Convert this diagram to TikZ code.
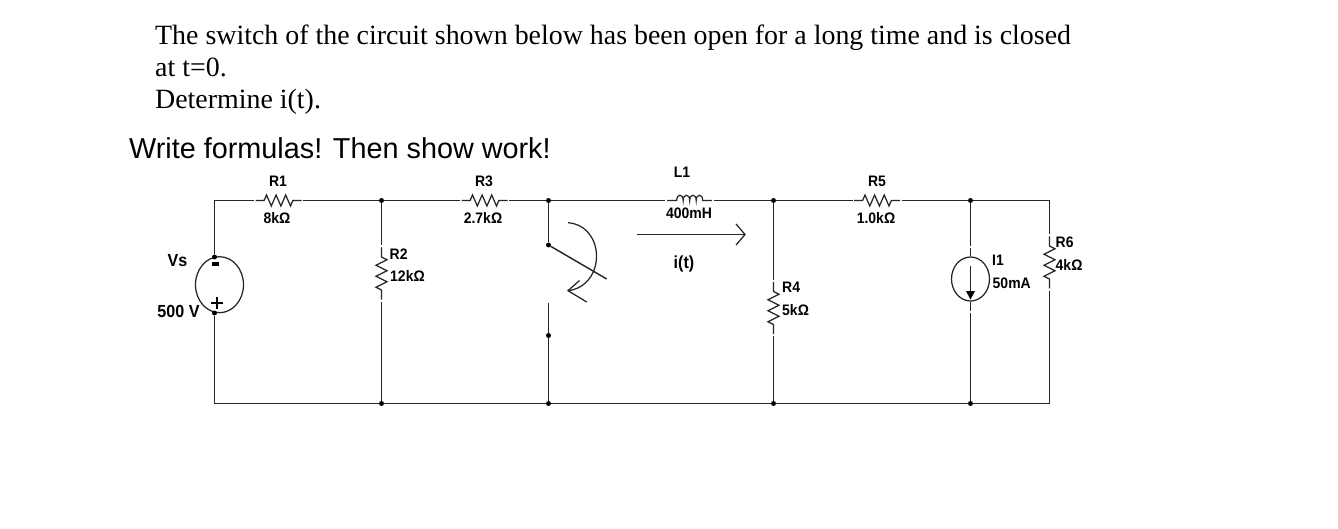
\documentclass[tikz,border=0pt]{standalone}
\usepackage{fontspec}
\setmainfont{Liberation Serif}
\newfontfamily\labelfont{Liberation Sans}
\newfontfamily\partfont[FakeStretch=0.92]{Liberation Sans}
\usetikzlibrary{shapes.geometric}
\tikzset{
  wire/.style={line width=1.45pt,draw=black!85},
  part/.style={line width=1.25pt,draw=black!85,line join=miter},
  dot/.style={circle,fill=black,inner sep=0pt,minimum size=5pt},
  para/.style={anchor=base west,inner sep=0pt,font=\fontsize{27.9}{34}\selectfont},
  head/.style={anchor=base west,inner sep=0pt,font=\labelfont\fontsize{28.8}{34}\selectfont},
  lab/.style={inner sep=0pt,font=\partfont\bfseries\fontsize{15.2}{16}\selectfont},
  labl/.style={lab,anchor=west},
  labbig/.style={inner sep=0pt,font=\partfont\bfseries\fontsize{17.5}{18}\selectfont},
}
% horizontal resistor: name, centre x, y
\newcommand{\hres}[3]{%
  \coordinate (#1in) at (#2-24.5,#3); \coordinate (#1out) at (#2+24.5,#3);
  \draw[part] (#2-23,#3) -- (#2-14.4,#3) -- ++(2.4,-5.5)
    -- ++(4.8,11) -- ++(4.8,-11) -- ++(4.8,11) -- ++(4.8,-11) -- ++(4.8,11)
    -- ++(2.4,-5.5) -- (#2+23,#3);}
% vertical resistor: name, x, centre y
\newcommand{\vres}[3]{%
  \coordinate (#1in) at (#2,#3-28); \coordinate (#1out) at (#2,#3+28);
  \draw[part] (#2,#3-26) -- (#2,#3-16.5) -- ++(5.5,2.75)
    -- ++(-11,5.5) -- ++(11,5.5) -- ++(-11,5.5) -- ++(11,5.5) -- ++(-11,5.5)
    -- ++(5.5,2.75) -- (#2,#3+26);}
\begin{document}
\begin{tikzpicture}[x=1pt,y=-1pt]
  \useasboundingbox (0,0) rectangle (1338,529);
  % text
  \node[para] (line1) at (155,45) {The switch of the circuit shown below has been open for a long time and is closed};
  \node[para] (line2) at (155,77) {at t=0.};
  \node[para] (line3) at (155,109) {Determine i(t).};
  \node[head] (title) at (129,158.5) {Write formulas! Then show work!};
  % junctions
  \coordinate (tl) at (214.5,200.5);
  \coordinate (tr) at (1049.5,200.5);
  \coordinate (bl) at (214.5,403.5);
  \coordinate (br) at (1049.5,403.5);
  \node[dot] (jt1) at (381.5,200.5) {};
  \node[dot] (jt2) at (548.5,200.5) {};
  \node[dot] (jt3) at (773.5,200.5) {};
  \node[dot] (jt4) at (970.5,200.5) {};
  \node[dot] (jb1) at (381.5,403.5) {};
  \node[dot] (jb2) at (548.5,403.5) {};
  \node[dot] (jb3) at (773.5,403.5) {};
  \node[dot] (jb4) at (970.5,403.5) {};
  % sources
  \node[ellipse,draw,part,minimum width=48pt,minimum height=56pt,inner sep=0pt] (Vs) at (219.5,284.7) {};
  \node[dot] (Vsn) at (214.5,257) {};
  \node[dot] (Vsp) at (214.5,313) {};
  \fill (212,262.5) rectangle (219,266.5);
  \draw[line width=2.1pt] (211,303) -- (223,303) (217,297) -- (217,309);
  \node[ellipse,draw,part,minimum width=38pt,minimum height=44pt,inner sep=0pt] (I1) at (970.5,279) {};
  \coordinate (I1in) at (970.5,246); \coordinate (I1out) at (970.5,313);
  \draw[part] (970.5,248) -- (I1.north) (I1.south) -- (970.5,311);
  \draw[part] (970.5,266) -- (970.5,292);
  \fill (966,291) -- (975,291) -- (970.5,299.5) -- cycle;
  % parts
  \hres{R1}{278.5}{200.5}
  \hres{R3}{484.5}{200.5}
  \hres{R5}{877}{200.5}
  \vres{R2}{381.5}{273.5}
  \vres{R4}{773.5}{308}
  \vres{R6}{1049.5}{262.5}
  \coordinate (L1in) at (665,200.5); \coordinate (L1out) at (714,200.5);
  \draw[part] (667,200.5) -- (676.7,200.5)
    \foreach \hump in {0,...,3} { .. controls (676.7+\hump*6.5,193.5) and (683.2+\hump*6.5,193.5) .. (683.2+\hump*6.5,200.5) }
    -- (712,200.5);
  % wires
  \draw[wire] (Vsn) -- (tl) -- (R1in);
  \draw[wire] (R1out) -- (jt1);
  \draw[wire] (jt1) -- (R3in);
  \draw[wire] (R3out) -- (jt2);
  \draw[wire] (jt2) -- (L1in);
  \draw[wire] (L1out) -- (jt3);
  \draw[wire] (jt3) -- (R5in);
  \draw[wire] (R5out) -- (jt4);
  \draw[wire] (jt4) -- (tr) -- (R6in);
  \draw[wire] (R6out) -- (br) -- (jb4);
  \draw[wire] (jb4) -- (jb3);
  \draw[wire] (jb3) -- (jb2);
  \draw[wire] (jb2) -- (jb1);
  \draw[wire] (jb1) -- (bl) -- (Vsp);
  \draw[wire] (jt1) -- (R2in);
  \draw[wire] (R2out) -- (jb1);
  \draw[wire] (jt3) -- (R4in);
  \draw[wire] (R4out) -- (jb3);
  \draw[wire] (jt4) -- (I1in);
  \draw[wire] (I1out) -- (jb4);
  % switch
  \node[dot] (swa) at (548.5,245) {};
  \node[dot] (swb) at (548.5,335.5) {};
  \coordinate (swtip) at (606.7,279);
  \coordinate (swlow) at (548.5,302.7);
  \draw[wire] (jt2) -- (swa);
  \draw[wire] (swa) -- (swtip);
  \draw[wire] (swlow) -- (swb);
  \draw[wire] (swb) -- (jb2);
  \coordinate (arca) at (568,222.7);
  \coordinate (arcb) at (568,290.7);
  \draw[part] (arca) .. controls (606,226) and (606,286) .. (arcb);
  \draw[part] (579.5,280.5) -- (arcb) -- (586.7,302);
  % current arrow
  \coordinate (ia) at (637,234.5);
  \coordinate (ib) at (745,234.5);
  \draw[part] (ia) -- (ib);
  \draw[part] (736,224) -- (ib) -- (736,245);
  % labels
  \node[lab] (lR1) at (278,181) {R1};
  \node[lab] (vR1) at (277,218) {8kΩ};
  \node[lab] (lR3) at (484,181) {R3};
  \node[lab] (vR3) at (483,218) {2.7kΩ};
  \node[lab] (lL1) at (682,172) {L1};
  \node[lab] (vL1) at (689,213) {400mH};
  \node[labbig] (lit) at (684,263.5) {i(t)};
  \node[lab] (lR5) at (877,181) {R5};
  \node[lab] (vR5) at (876,218) {1.0kΩ};
  \node[labl] (lR2) at (389.5,254) {R2};
  \node[labl] (vR2) at (390,276) {12kΩ};
  \node[labl] (lR4) at (782,287) {R4};
  \node[labl] (vR4) at (782,310) {5kΩ};
  \node[labl] (lR6) at (1055.5,242) {R6};
  \node[labl] (vR6) at (1055.5,265) {4kΩ};
  \node[labl] (lI1) at (992,260) {I1};
  \node[labl] (vI1) at (992.5,283) {50mA};
  \node[labbig] (lVs) at (177.5,261) {Vs};
  \node[labbig] (vVs) at (178.5,311.5) {500 V};
\end{tikzpicture}
\end{document}
